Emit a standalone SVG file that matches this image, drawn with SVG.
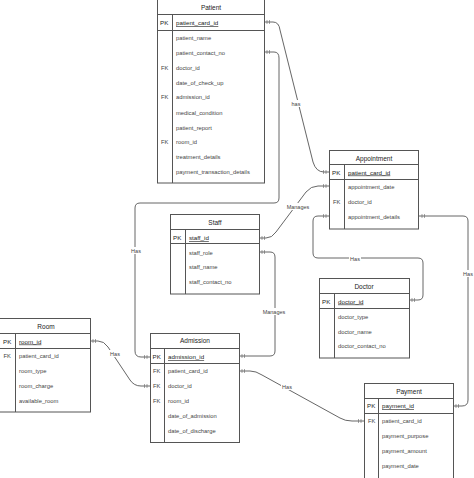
<svg xmlns="http://www.w3.org/2000/svg" width="474" height="478" viewBox="0 0 474 478">
<defs>
<style>
.box{fill:#fff;stroke:#555;stroke-width:1}
.ln{stroke:#555;stroke-width:1;fill:none}
.t{font-family:"Liberation Sans",Arial,sans-serif;font-size:6.5px;fill:#222;text-anchor:middle}
.f{font-family:"Liberation Sans",Arial,sans-serif;font-size:5.8px;fill:#444}
.k{font-family:"Liberation Sans",Arial,sans-serif;font-size:6.2px;fill:#222}
.pk{text-decoration:underline}
.c{stroke:#555;stroke-width:0.9;fill:none;marker-start:url(#one);marker-end:url(#one)}
.lb{font-family:"Liberation Sans",Arial,sans-serif;font-size:5.5px;fill:#444;text-anchor:middle}
.lbg{fill:#fff}
</style>
<marker id="one" viewBox="0 0 10 8" refX="10" refY="4" markerWidth="10" markerHeight="8" markerUnits="userSpaceOnUse" orient="auto-start-reverse">
<path d="M4.5,2V6M7,2V6" stroke="#666" stroke-width="0.6" fill="none"/>
</marker>
</defs>
<rect width="474" height="478" fill="#fff"/>

<g id="connectors">
<path class="c" d="M264,22 H273 Q279,22 280,30 L313,162 Q316,172 324,172 H329"/>
<path class="c" d="M264,52 H274 Q279,52 279,58 V198 Q279,203 274,203 H140 Q135,203 135,208 V351 Q135,357 141,357 H150"/>
<path class="c" d="M259,238 H266 Q272,238 276,232 L306,192 Q311,186 318,186 H329"/>
<path class="c" d="M259,252 H270 Q275,252 275,257 V351 Q275,356 270,356 H239"/>
<path class="c" d="M329,216 H318 Q313,216 313,221 V253 Q313,258 318,258 H418 Q423,258 423,263 V295 Q423,300 418,300 H409"/>
<path class="c" d="M419,216 H463 Q468,216 468,221 V400 Q468,406 462,406 H453"/>
<path class="c" d="M239,371 H250 Q256,371 262,375 L340,418 Q345,421 352,421 H364"/>
<path class="c" d="M90,341 H98 Q104,341 108,347 L130,380 Q134,386 141,386 H150"/>
<rect class="lbg" x="290" y="100" width="12" height="7"/><text class="lb" x="296" y="106">has</text>
<rect class="lbg" x="130" y="247" width="12" height="7"/><text class="lb" x="136" y="253">Has</text>
<rect class="lbg" x="287" y="203" width="22" height="7"/><text class="lb" x="298" y="209">Manages</text>
<rect class="lbg" x="263" y="308" width="22" height="7"/><text class="lb" x="274" y="314">Manages</text>
<rect class="lbg" x="349" y="255" width="12" height="7"/><text class="lb" x="355" y="261">Has</text>
<rect class="lbg" x="462" y="270" width="12" height="7"/><text class="lb" x="468" y="276">Has</text>
<rect class="lbg" x="281" y="383" width="12" height="7"/><text class="lb" x="287" y="389">Has</text>
<rect class="lbg" x="109" y="350" width="12" height="7"/><text class="lb" x="115" y="356">Has</text>
</g>

<g id="patient">
<rect class="box" x="157.5" y="-0.5" width="107" height="183.5"/>
<line class="ln" x1="157.5" y1="14.5" x2="264.5" y2="14.5"/>
<line class="ln" x1="157.5" y1="30.5" x2="264.5" y2="30.5"/>
<line class="ln" x1="172.5" y1="14.5" x2="172.5" y2="183"/>
<text class="t" x="211" y="9.5">Patient</text>
<text class="k" x="160" y="25">PK</text>
<text class="k pk" x="176" y="25">patient_card_id</text>
<text class="f" x="176" y="40">patient_name</text>
<text class="f" x="176" y="54.5">patient_contact_no</text>
<text class="f" x="161" y="69.5">FK</text>
<text class="f" x="176" y="69.5">doctor_id</text>
<text class="f" x="176" y="84.5">date_of_check_up</text>
<text class="f" x="161" y="99">FK</text>
<text class="f" x="176" y="99">admission_id</text>
<text class="f" x="176" y="114.5">medical_condition</text>
<text class="f" x="176" y="129.5">patient_report</text>
<text class="f" x="161" y="144">FK</text>
<text class="f" x="176" y="144">room_id</text>
<text class="f" x="176" y="159">treatment_details</text>
<text class="f" x="176" y="174">payment_transaction_details</text>
</g>

<g id="appointment">
<rect class="box" x="329.5" y="150.5" width="89" height="78.5"/>
<line class="ln" x1="329.5" y1="164.5" x2="418.5" y2="164.5"/>
<line class="ln" x1="329.5" y1="179.5" x2="418.5" y2="179.5"/>
<line class="ln" x1="344.5" y1="164.5" x2="344.5" y2="229"/>
<text class="t" x="374" y="160.5">Appointment</text>
<text class="k" x="332" y="174.5">PK</text>
<text class="k pk" x="348" y="174.5">patient_card_id</text>
<text class="f" x="348" y="189">appointment_date</text>
<text class="f" x="333" y="204">FK</text>
<text class="f" x="348" y="204">doctor_id</text>
<text class="f" x="348" y="218.5">appointment_details</text>
</g>

<g id="staff">
<rect class="box" x="170.5" y="214.5" width="89" height="79.5"/>
<line class="ln" x1="170.5" y1="229.5" x2="259.5" y2="229.5"/>
<line class="ln" x1="170.5" y1="243.5" x2="259.5" y2="243.5"/>
<line class="ln" x1="185.5" y1="229.5" x2="185.5" y2="294"/>
<text class="t" x="215" y="225">Staff</text>
<text class="k" x="173" y="240">PK</text>
<text class="k pk" x="189" y="240">staff_id</text>
<text class="f" x="189" y="254.5">staff_role</text>
<text class="f" x="189" y="269">staff_name</text>
<text class="f" x="189" y="283.5">staff_contact_no</text>
</g>

<g id="doctor">
<rect class="box" x="319.5" y="278.5" width="90" height="79.5"/>
<line class="ln" x1="319.5" y1="293.5" x2="409.5" y2="293.5"/>
<line class="ln" x1="319.5" y1="308.5" x2="409.5" y2="308.5"/>
<line class="ln" x1="334.5" y1="293.5" x2="334.5" y2="358"/>
<text class="t" x="364" y="289">Doctor</text>
<text class="k" x="322" y="303.5">PK</text>
<text class="k pk" x="338" y="303.5">doctor_id</text>
<text class="f" x="338" y="319">doctor_type</text>
<text class="f" x="338" y="333.5">doctor_name</text>
<text class="f" x="338" y="348">doctor_contact_no</text>
</g>

<g id="room">
<rect class="box" x="-1.5" y="318.5" width="92" height="93.5"/>
<line class="ln" x1="-1.5" y1="333.5" x2="90.5" y2="333.5"/>
<line class="ln" x1="-1.5" y1="348.5" x2="90.5" y2="348.5"/>
<line class="ln" x1="15.5" y1="333.5" x2="15.5" y2="412"/>
<text class="t" x="46" y="328.5">Room</text>
<text class="k" x="3" y="343.5">PK</text>
<text class="k pk" x="19" y="343.5">room_id</text>
<text class="f" x="3.5" y="358">FK</text>
<text class="f" x="19" y="358">patient_card_id</text>
<text class="f" x="19" y="373">room_type</text>
<text class="f" x="19" y="388">room_charge</text>
<text class="f" x="19" y="403">available_room</text>
</g>

<g id="admission">
<rect class="box" x="150.5" y="333.5" width="89" height="109"/>
<line class="ln" x1="150.5" y1="348.5" x2="239.5" y2="348.5"/>
<line class="ln" x1="150.5" y1="363.5" x2="239.5" y2="363.5"/>
<line class="ln" x1="164.5" y1="348.5" x2="164.5" y2="442.5"/>
<text class="t" x="195" y="343">Admission</text>
<text class="k" x="152.5" y="359">PK</text>
<text class="k pk" x="168" y="359">admission_id</text>
<text class="f" x="153" y="373">FK</text>
<text class="f" x="168" y="373">patient_card_id</text>
<text class="f" x="153" y="388">FK</text>
<text class="f" x="168" y="388">doctor_id</text>
<text class="f" x="153" y="403">FK</text>
<text class="f" x="168" y="403">room_id</text>
<text class="f" x="168" y="418">date_of_admission</text>
<text class="f" x="168" y="433">date_of_discharge</text>
</g>

<g id="payment">
<rect class="box" x="364.5" y="383.5" width="89" height="110"/>
<line class="ln" x1="364.5" y1="398.5" x2="453.5" y2="398.5"/>
<line class="ln" x1="364.5" y1="413.5" x2="453.5" y2="413.5"/>
<line class="ln" x1="378.5" y1="398.5" x2="378.5" y2="494"/>
<text class="t" x="409" y="393.5">Payment</text>
<text class="k" x="367" y="408">PK</text>
<text class="k pk" x="382" y="408">payment_id</text>
<text class="f" x="368" y="423">FK</text>
<text class="f" x="382" y="423">patient_card_id</text>
<text class="f" x="382" y="438">payment_purpose</text>
<text class="f" x="382" y="453">payment_amount</text>
<text class="f" x="382" y="468">payment_date</text>
</g>
</svg>
